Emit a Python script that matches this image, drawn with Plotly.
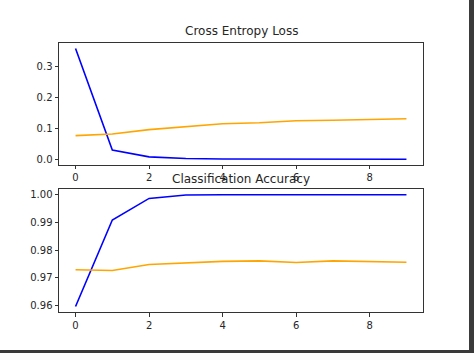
import plotly.graph_objects as go

epochs = [0, 1, 2, 3, 4, 5, 6, 7, 8, 9]
train_loss = [0.357, 0.030, 0.0083, 0.003, 0.0015, 0.0010, 0.0007, 0.0005, 0.0004, 0.0003]
test_loss = [0.0767, 0.082, 0.096, 0.106, 0.115, 0.118, 0.1245, 0.126, 0.128, 0.131]
train_acc = [0.9596, 0.9909, 0.9987, 0.99995, 1.0, 1.0, 1.0, 1.0, 1.0, 1.0]
test_acc = [0.9729, 0.9726, 0.9748, 0.9754, 0.9759, 0.9761, 0.9755, 0.9761, 0.9759, 0.9756]
x_ticks = [0, 2, 4, 6, 8]
loss_ticks = [0.0, 0.1, 0.2, 0.3]
acc_ticks = [0.96, 0.97, 0.98, 0.99, 1.00]

FONT = "DejaVu Sans"
TXT = "#262626"
AX = "#333333"

fig = go.Figure()
fig.add_trace(go.Scatter(x=epochs, y=train_loss, mode="lines", line=dict(color="blue", width=1.6), xaxis="x", yaxis="y"))
fig.add_trace(go.Scatter(x=epochs, y=test_loss, mode="lines", line=dict(color="orange", width=1.6), xaxis="x", yaxis="y"))
fig.add_trace(go.Scatter(x=epochs, y=train_acc, mode="lines", line=dict(color="blue", width=1.6), xaxis="x2", yaxis="y2"))
fig.add_trace(go.Scatter(x=epochs, y=test_acc, mode="lines", line=dict(color="orange", width=1.6), xaxis="x2", yaxis="y2"))

axis_common = dict(showgrid=False, zeroline=False, showline=True, mirror=True, linecolor=AX, linewidth=1,
                   ticks="outside", ticklen=3.5, tickwidth=1, tickcolor=AX,
                   tickfont=dict(family=FONT, size=10, color=TXT))

fig.update_layout(
    width=474, height=353,
    margin=dict(l=59, r=51, t=43, b=41),
    paper_bgcolor="white", plot_bgcolor="white",
    showlegend=False,
    xaxis=dict(domain=[0, 1], anchor="y", range=[-0.45, 9.45], tickvals=x_ticks, **axis_common),
    yaxis=dict(domain=[0.5465, 1.0], anchor="x", range=[-0.018, 0.375], tickvals=loss_ticks, tickformat=".1f", **axis_common),
    xaxis2=dict(domain=[0, 1], anchor="y2", range=[-0.45, 9.45], tickvals=x_ticks, **axis_common),
    yaxis2=dict(domain=[0.0, 0.4572], anchor="x2", range=[0.9576, 1.0021], tickvals=acc_ticks, tickformat=".2f", **axis_common),
    annotations=[
        dict(text="Cross Entropy Loss", x=0.5, y=1.0446, xref="paper", yref="paper", xanchor="center", yanchor="middle",
             showarrow=False, font=dict(family=FONT, size=12, color=TXT)),
        dict(text="Classification Accuracy", x=0.5, y=0.4944, xref="paper", yref="paper", xanchor="center", yanchor="middle",
             showarrow=False, font=dict(family=FONT, size=12, color=TXT)),
    ],
    shapes=[
        dict(type="rect", xref="paper", yref="paper", x0=1.1264, x1=1.16, y0=-0.16, y1=1.17,
             fillcolor="#3a3a3a", line=dict(width=0), layer="above"),
        dict(type="rect", xref="paper", yref="paper", x0=-0.17, x1=1.16, y0=-0.16, y1=-0.1413,
             fillcolor="#3a3a3a", line=dict(width=0), layer="above"),
    ],
)

fig.write_html("out.html")
